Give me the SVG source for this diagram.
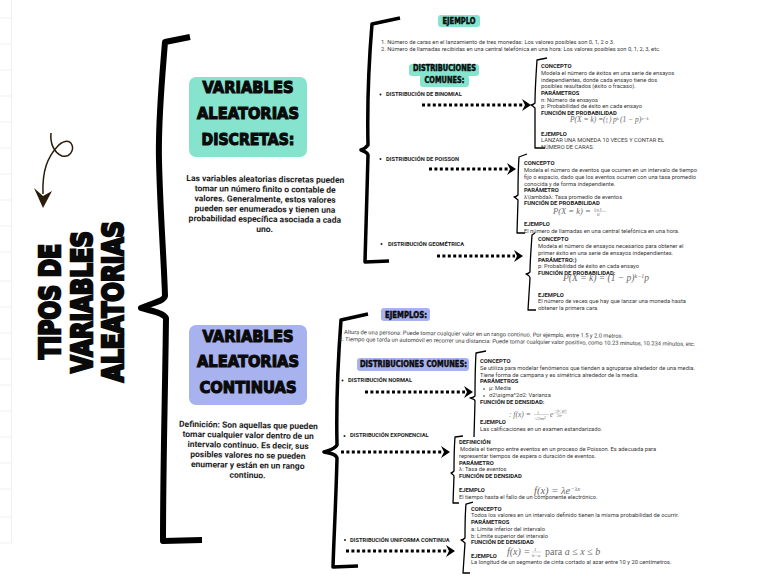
<svg xmlns="http://www.w3.org/2000/svg" width="768" height="576" viewBox="0 0 768 576">
<style>
text{font-family:Roboto,"Liberation Sans",sans-serif;fill:#3a3a3a}
.h{font-family:"DejaVu Sans",sans-serif;font-weight:700;fill:#0a0a0a;stroke:#0a0a0a;paint-order:stroke;text-anchor:middle}
.t{font-size:29px;stroke-width:2.6}
.b{font-size:16.5px;stroke-width:1.2}
.s{font-size:8px;stroke-width:.45}
.d{font-size:8.5px;font-weight:700;fill:#1c1c1c;text-anchor:middle}
.c{font-size:5.75px}
.k{font-size:5.85px;font-weight:700;fill:#222}
.l{font-size:5.75px;font-weight:700;fill:#222}
.f{font-family:"Liberation Serif",serif;fill:#6a6a6a;font-style:italic}
.r{font-style:normal}
.br{fill:none;stroke:#000;stroke-linejoin:round;stroke-linecap:butt}
.ar{fill:none;stroke:#000;stroke-width:3;stroke-dasharray:3 2.4;marker-end:url(#chev)}
.bu{fill:#222}
.grid{stroke:#eff1f1;stroke-width:1;fill:none}
.fl{stroke:#777;stroke-width:.3}
</style>
<defs>
<marker id="chev" markerUnits="userSpaceOnUse" markerWidth="10" markerHeight="13" refX="1" refY="6.5" orient="auto">
<path d="M0 .5 L9 6.5 L0 12.5 L3 6.5Z" fill="#000"/>
</marker>
</defs>
<rect width="768" height="576" fill="#fff"/>
<path class="grid" d="M11.5 0V543H0M0 18H11.500M0 44H11.500M0 70H11.500M0 96H11.500M0 122H11.500M0 148H11.500M0 174H11.500M0 200H11.500M0 226H11.500M0 252H11.500M0 281H11.500M0 307H11.500M0 333H11.500M0 359H11.500M0 385H11.500M0 411H11.500M0 437H11.500M0 463H11.500M0 489H11.500M0 517H11.500"/>

<g id="swirl">
<path d="M51 133C50 142 53 152 62 156C70 158 74 150 72 145C69 139 62 141 57 147C48 157 42 170 43 194" fill="none" stroke="#2a1c0a" stroke-width="1.5"/>
<path d="M34 188L43 208L52 191L43 196Z" fill="#2a1c0a"/>
</g>
<g id="title">
<text class="h t" transform="translate(60 301.500) rotate(-90)" textLength="115" lengthAdjust="spacingAndGlyphs">TIPOS DE</text>
<text class="h t" transform="translate(92 302) rotate(-90)" textLength="142" lengthAdjust="spacingAndGlyphs">VARIABLES</text>
<text class="h t" transform="translate(123 301.500) rotate(-90)" textLength="161" lengthAdjust="spacingAndGlyphs">ALEATORIAS</text>
</g>

<g id="connectors">
<path class="br" stroke-width="6" d="M190 37L165 42C162 80 158 120 159 160C160 210 164 260 165 296C164 301 155 302 141 308C150 311 163 312 166 318C165 400 163 470 163 541L202 540"/>
<path class="br" stroke-width="3.500" d="M400 18L372 24C369 60 367 100 368 145C366 148 364 149 361 150C364 151 367 152 368 155C367 190 366 230 365 262L389 261"/>
<path class="br" stroke-width="3.500" d="M368 314L341 320C338 360 336 400 337 445C335 449 330 450 324 452C330 453 336 454 337 458C336 500 334 535 333 567L358 566"/>
<path class="br" stroke-width="1.300" d="M547 58L537 60C536 75 535 90 535 103C534 104 533 105 531 105C533 106 534 107 535 108V148H545"/>
<path class="br" stroke-width="1.300" d="M527 154L519 157C518 170 518 185 518 195C517 196 516 197 514 197C516 198 517 199 518 200L517 233H525"/>
<path class="br" stroke-width="1.300" d="M535 233L532 235C531 250 530 262 530 272C529 273 528 274 526 274C528 275 530 276 530 278L528 310H536"/>
<path class="br" stroke-width="1.300" d="M486 351L476 353C475 370 475 385 475 396C474 397 472 398 470 398C473 399 475 399 475 401L474 437"/>
<path class="br" stroke-width="1.300" d="M463 436L455 437C454 450 454 462 454 471C453 472 452 473 451 473C452 474 454 475 454 476L453 503H459"/>
<path class="br" stroke-width="1.300" d="M473 502L466 504C465 515 465 528 465 538C464 539 463 540 461 540C463 541 464 542 465 543L463 573H470"/>
<path class="ar" d="M422 105H523"/>
<path class="ar" d="M429 169H508"/>
<path class="ar" d="M437 256H515"/>
<path class="ar" d="M365 392H465"/>
<path class="ar" d="M341 452H442"/>
<path class="ar" d="M346 551H447"/>
</g>

<g id="discretas">
<rect x="189" y="77" width="118" height="80" rx="7" fill="#86e3ce"/>
<text class="h b" x="248" y="93" textLength="91" lengthAdjust="spacingAndGlyphs">VARIABLES</text>
<text class="h b" x="248" y="119" textLength="102" lengthAdjust="spacingAndGlyphs">ALEATORIAS</text>
<text class="h b" x="248" y="145" textLength="93" lengthAdjust="spacingAndGlyphs">DISCRETAS:</text>
</g>
<g id="discretas-def" transform="rotate(.7 265 205)">
<text class="d" x="265" y="182">Las variables aleatorias discretas pueden</text>
<text class="d" x="265" y="192">tomar un número finito o contable de</text>
<text class="d" x="265" y="202">valores. Generalmente, estos valores</text>
<text class="d" x="265" y="212">pueden ser enumerados y tienen una</text>
<text class="d" x="265" y="222">probabilidad específica asociada a cada</text>
<text class="d" x="265" y="232">uno.</text>
</g>
<g id="continuas">
<rect x="189" y="325" width="118" height="80" rx="7" fill="#a8b2ef"/>
<text class="h b" x="248" y="342" textLength="91" lengthAdjust="spacingAndGlyphs">VARIABLES</text>
<text class="h b" x="248" y="367" textLength="102" lengthAdjust="spacingAndGlyphs">ALEATORIAS</text>
<text class="h b" x="248" y="393" textLength="97" lengthAdjust="spacingAndGlyphs">CONTINUAS</text>
</g>
<g id="continuas-def" transform="rotate(1 248 450)">
<text class="d" x="248" y="428">Definición: Son aquellas que pueden</text>
<text class="d" x="248" y="438">tomar cualquier valor dentro de un</text>
<text class="d" x="248" y="448">intervalo continuo. Es decir, sus</text>
<text class="d" x="248" y="458">posibles valores no se pueden</text>
<text class="d" x="248" y="468">enumerar y están en un rango</text>
<text class="d" x="248" y="478">continuo.</text>
</g>

<g id="ejemplo-discretas">
<rect x="438" y="15" width="42" height="12" rx="3" fill="#86e3ce"/>
<text class="h s" x="459" y="24" textLength="33" lengthAdjust="spacingAndGlyphs">EJEMPLO</text>
<text class="c" x="381" y="44">1. Número de caras en el lanzamiento de tres monedas: Los valores posibles son 0, 1, 2 o 3.</text>
<text class="c" x="381" y="51">2. Número de llamadas recibidas en una central telefónica en una hora: Los valores posibles son 0, 1, 2, 3, etc.</text>
</g>
<g id="comunes-discretas">
<rect x="409" y="64" width="70" height="12" rx="3" fill="#86e3ce"/>
<rect x="420" y="75" width="49" height="12" rx="3" fill="#86e3ce"/>
<text class="h s" x="444.500" y="71" textLength="63" lengthAdjust="spacingAndGlyphs">DISTRIBUCIONES</text>
<text class="h s" x="444.500" y="83" textLength="40" lengthAdjust="spacingAndGlyphs">COMUNES:</text>
</g>
<g id="binomial">
<circle class="bu" cx="380.500" cy="94.500" r="1"/>
<text class="l" x="386" y="96">DISTRIBUCIÓN DE BINOMIAL</text>
<text class="k" x="541" y="68">CONCEPTO</text>
<text class="c" x="541" y="75">Modela el número de éxitos en una serie de ensayos</text>
<text class="c" x="541" y="81.500">independientes, donde cada ensayo tiene dos</text>
<text class="c" x="541" y="88">posibles resultados (éxito o fracaso).</text>
<text class="k" x="541" y="95">PARÁMETROS</text>
<text class="c" x="541" y="102">n: Número de ensayos</text>
<text class="c" x="541" y="108">p: Probabilidad de éxito en cada ensayo</text>
<text class="k" x="541" y="115">FUNCIÓN DE PROBABILIDAD</text>
<text class="f" x="570" y="122" font-size="7.500">P(X = k) =</text>
<text class="f" x="603" y="122" font-size="7.500">(</text>
<text class="f" x="606" y="119.500" font-size="3.500">n</text>
<text class="f" x="606" y="123" font-size="3.500">k</text>
<text class="f" x="609" y="122" font-size="7.500">)</text>
<text class="f" x="613" y="122" font-size="7.500">p<tspan font-size="4.500" dy="-2.500">k</tspan></text>
<text class="f" x="620" y="122" font-size="7.500">(1 − p)<tspan font-size="4.500" dy="-2.500">n−k</tspan></text>
<text class="k" x="541" y="136">EJEMPLO</text>
<text class="c" x="541" y="142">LANZAR UNA MONEDA 10 VECES Y CONTAR EL</text>
<text class="c" x="541" y="149">NÚMERO DE CARAS.</text>
</g>
<g id="poisson">
<circle class="bu" cx="380.500" cy="159" r="1"/>
<text class="l" x="386" y="161">DISTRIBUCIÓN DE POISSON</text>
<text class="k" x="524" y="165">CONCEPTO</text>
<text class="c" x="524" y="172">Modela el número de eventos que ocurren en un intervalo de tiempo</text>
<text class="c" x="524" y="179">fijo o espacio, dado que los eventos ocurren con una tasa promedio</text>
<text class="c" x="524" y="186">conocida y de forma independiente.</text>
<text class="k" x="524" y="192">PARÁMETRO</text>
<text class="c" x="524" y="199">λ\lambdaλ: Tasa promedio de eventos</text>
<text class="k" x="524" y="205">FUNCIÓN DE PROBABILIDAD</text>
<text class="f" x="553" y="214" font-size="8.500">P(X = k) =</text>
<text class="f" x="594" y="210.500" font-size="4.200">λᵏe⁻λ</text>
<path class="fl" d="M594 211.500H606"/>
<text class="f" x="597" y="215.500" font-size="4.200">k!</text>
<text class="k" x="524" y="226">EJEMPLO</text>
<text class="c" x="524" y="233">El número de llamadas en una central telefónica en una hora.</text>
</g>
<g id="geometrica">
<circle class="bu" cx="381.500" cy="244" r="1"/>
<text class="l" x="388" y="246">DISTRIBUCIÓN GEOMÉTRICA</text>
<text class="k" x="538" y="241">CONCEPTO</text>
<text class="c" x="538" y="248">Modela el número de ensayos necesarios para obtener el</text>
<text class="c" x="538" y="255">primer éxito en una serie de ensayos independientes.</text>
<text class="k" x="538" y="262">PARÁMETRO:)</text>
<text class="c" x="538" y="268">p: Probabilidad de éxito en cada ensayo</text>
<text class="k" x="538" y="275">FUNCIÓN DE PROBABILIDAD:</text>
<text class="f" x="563" y="281" font-size="9.500">P(X = k) = (1 − p)<tspan font-size="6" dy="-3">k−1</tspan><tspan dy="3">p</tspan></text>
<text class="k" x="538" y="297">EJEMPLO</text>
<text class="c" x="538" y="303">El número de veces que hay que lanzar una moneda hasta</text>
<text class="c" x="538" y="310">obtener la primera cara.</text>
</g>

<g id="ejemplos-continuas">
<rect x="381" y="308" width="49" height="13" rx="3" fill="#a8b2ef"/>
<text class="h s" x="406" y="317.500" textLength="42" lengthAdjust="spacingAndGlyphs">EJEMPLOS:</text>
<text class="c" transform="rotate(.8 344 334)" x="344" y="334">Altura de una persona: Puede tomar cualquier valor en un rango continuo. Por ejemplo, entre 1.5 y 2.0 metros.</text>
<text class="c" transform="rotate(.8 339 341)" x="339" y="341">2. Tiempo que tarda un automóvil en recorrer una distancia: Puede tomar cualquier valor positivo, como 10.23 minutos, 10.234 minutos, etc.</text>
</g>
<g id="comunes-continuas">
<rect x="357" y="358" width="112" height="13" rx="3" fill="#a8b2ef"/>
<text class="h s" x="413.500" y="367" textLength="107" lengthAdjust="spacingAndGlyphs">DISTRIBUCIONES COMUNES:</text>
</g>
<g id="normal">
<circle class="bu" cx="342.500" cy="380.500" r="1"/>
<text class="l" x="348" y="382">DISTRIBUCIÓN NORMAL</text>
<text class="k" x="480" y="363">CONCEPTO</text>
<text class="c" x="480" y="370">Se utiliza para modelar fenómenos que tienden a agruparse alrededor de una media.</text>
<text class="c" x="480" y="377">Tiene forma de campana y es simétrica alrededor de la media.</text>
<text class="k" x="480" y="383">PARÁMETROS</text>
<circle class="bu" cx="484" cy="389" r=".8"/>
<text class="c" x="489" y="390">μ: Media</text>
<circle class="bu" cx="484" cy="396" r=".8"/>
<text class="c" x="489" y="397">σ2\sigma^2σ2: Varianza</text>
<text class="k" x="480" y="404">FUNCIÓN DE DENSIDAD:</text>
<text class="f" x="509" y="417" font-size="7.500">: f(x) =</text>
<text class="f" x="537" y="413.500" font-size="4">1</text>
<path class="fl" d="M534 414.500H549"/>
<text class="f" x="535" y="420" font-size="4.500">√2πσ²</text>
<text class="f" x="550" y="417" font-size="7.500">e</text>
<text class="f" x="554" y="412" font-size="3.800">−(x−μ)²</text>
<path class="fl" d="M554 413H567"/>
<text class="f" x="557" y="416.500" font-size="3.800">2σ²</text>
<text class="k" x="480" y="424">EJEMPLO</text>
<text class="c" x="480" y="431">Las calificaciones en un examen estandarizado.</text>
</g>
<g id="exponencial">
<circle class="bu" cx="344.500" cy="436" r="1"/>
<text class="l" x="350" y="437">DISTRIBUCIÓN EXPONENCIAL</text>
<text class="k" x="459" y="444">DEFINICIÓN</text>
<text class="c" x="460" y="451">Modela el tiempo entre eventos en un proceso de Poisson. Es adecuada para</text>
<text class="c" x="459" y="458">representar tiempos de espera o duración de eventos.</text>
<text class="k" x="459" y="465">PARÁMETRO</text>
<text class="c" x="459" y="471">λ: Tasa de eventos</text>
<text class="k" x="459" y="478">FUNCIÓN DE DENSIDAD</text>
<text class="k" x="459" y="492">EJEMPLO</text>
<text class="c" x="459" y="499">El tiempo hasta el fallo de un componente electrónico.</text>
<text class="f" x="534" y="494" font-size="10.500">f(x) = λe<tspan font-size="6.500" dy="-3.500">−λx</tspan></text>
</g>
<g id="uniforme">
<circle class="bu" cx="345" cy="540" r="1"/>
<text class="l" x="350" y="542">DISTRIBUCIÓN UNIFORMA CONTINUA</text>
<text class="k" x="471" y="511">CONCEPTO</text>
<text class="c" x="471" y="517">Todos los valores en un intervalo definido tienen la misma probabilidad de ocurrir.</text>
<text class="k" x="471" y="524">PARÁMETROS</text>
<text class="c" x="471" y="531">a: Límite inferior del intervalo</text>
<text class="c" x="471" y="538">b: Límite superior del intervalo</text>
<text class="k" x="471" y="544">FUNCIÓN DE DENSIDAD</text>
<text class="f" x="507" y="555" font-size="10">f(x) =</text>
<text class="f" x="534" y="551" font-size="5">1</text>
<path class="fl" d="M532 552H541"/>
<text class="f" x="532" y="557" font-size="5">b−a</text>
<text class="f" x="545" y="555" font-size="10"><tspan class="r">para</tspan> a ≤ x ≤ b</text>
<text class="k" x="471" y="558">EJEMPLO</text>
<text class="c" x="471" y="564">La longitud de un segmento de cinta cortado al azar entre 10 y 20 centímetros.</text>
</g>
</svg>
